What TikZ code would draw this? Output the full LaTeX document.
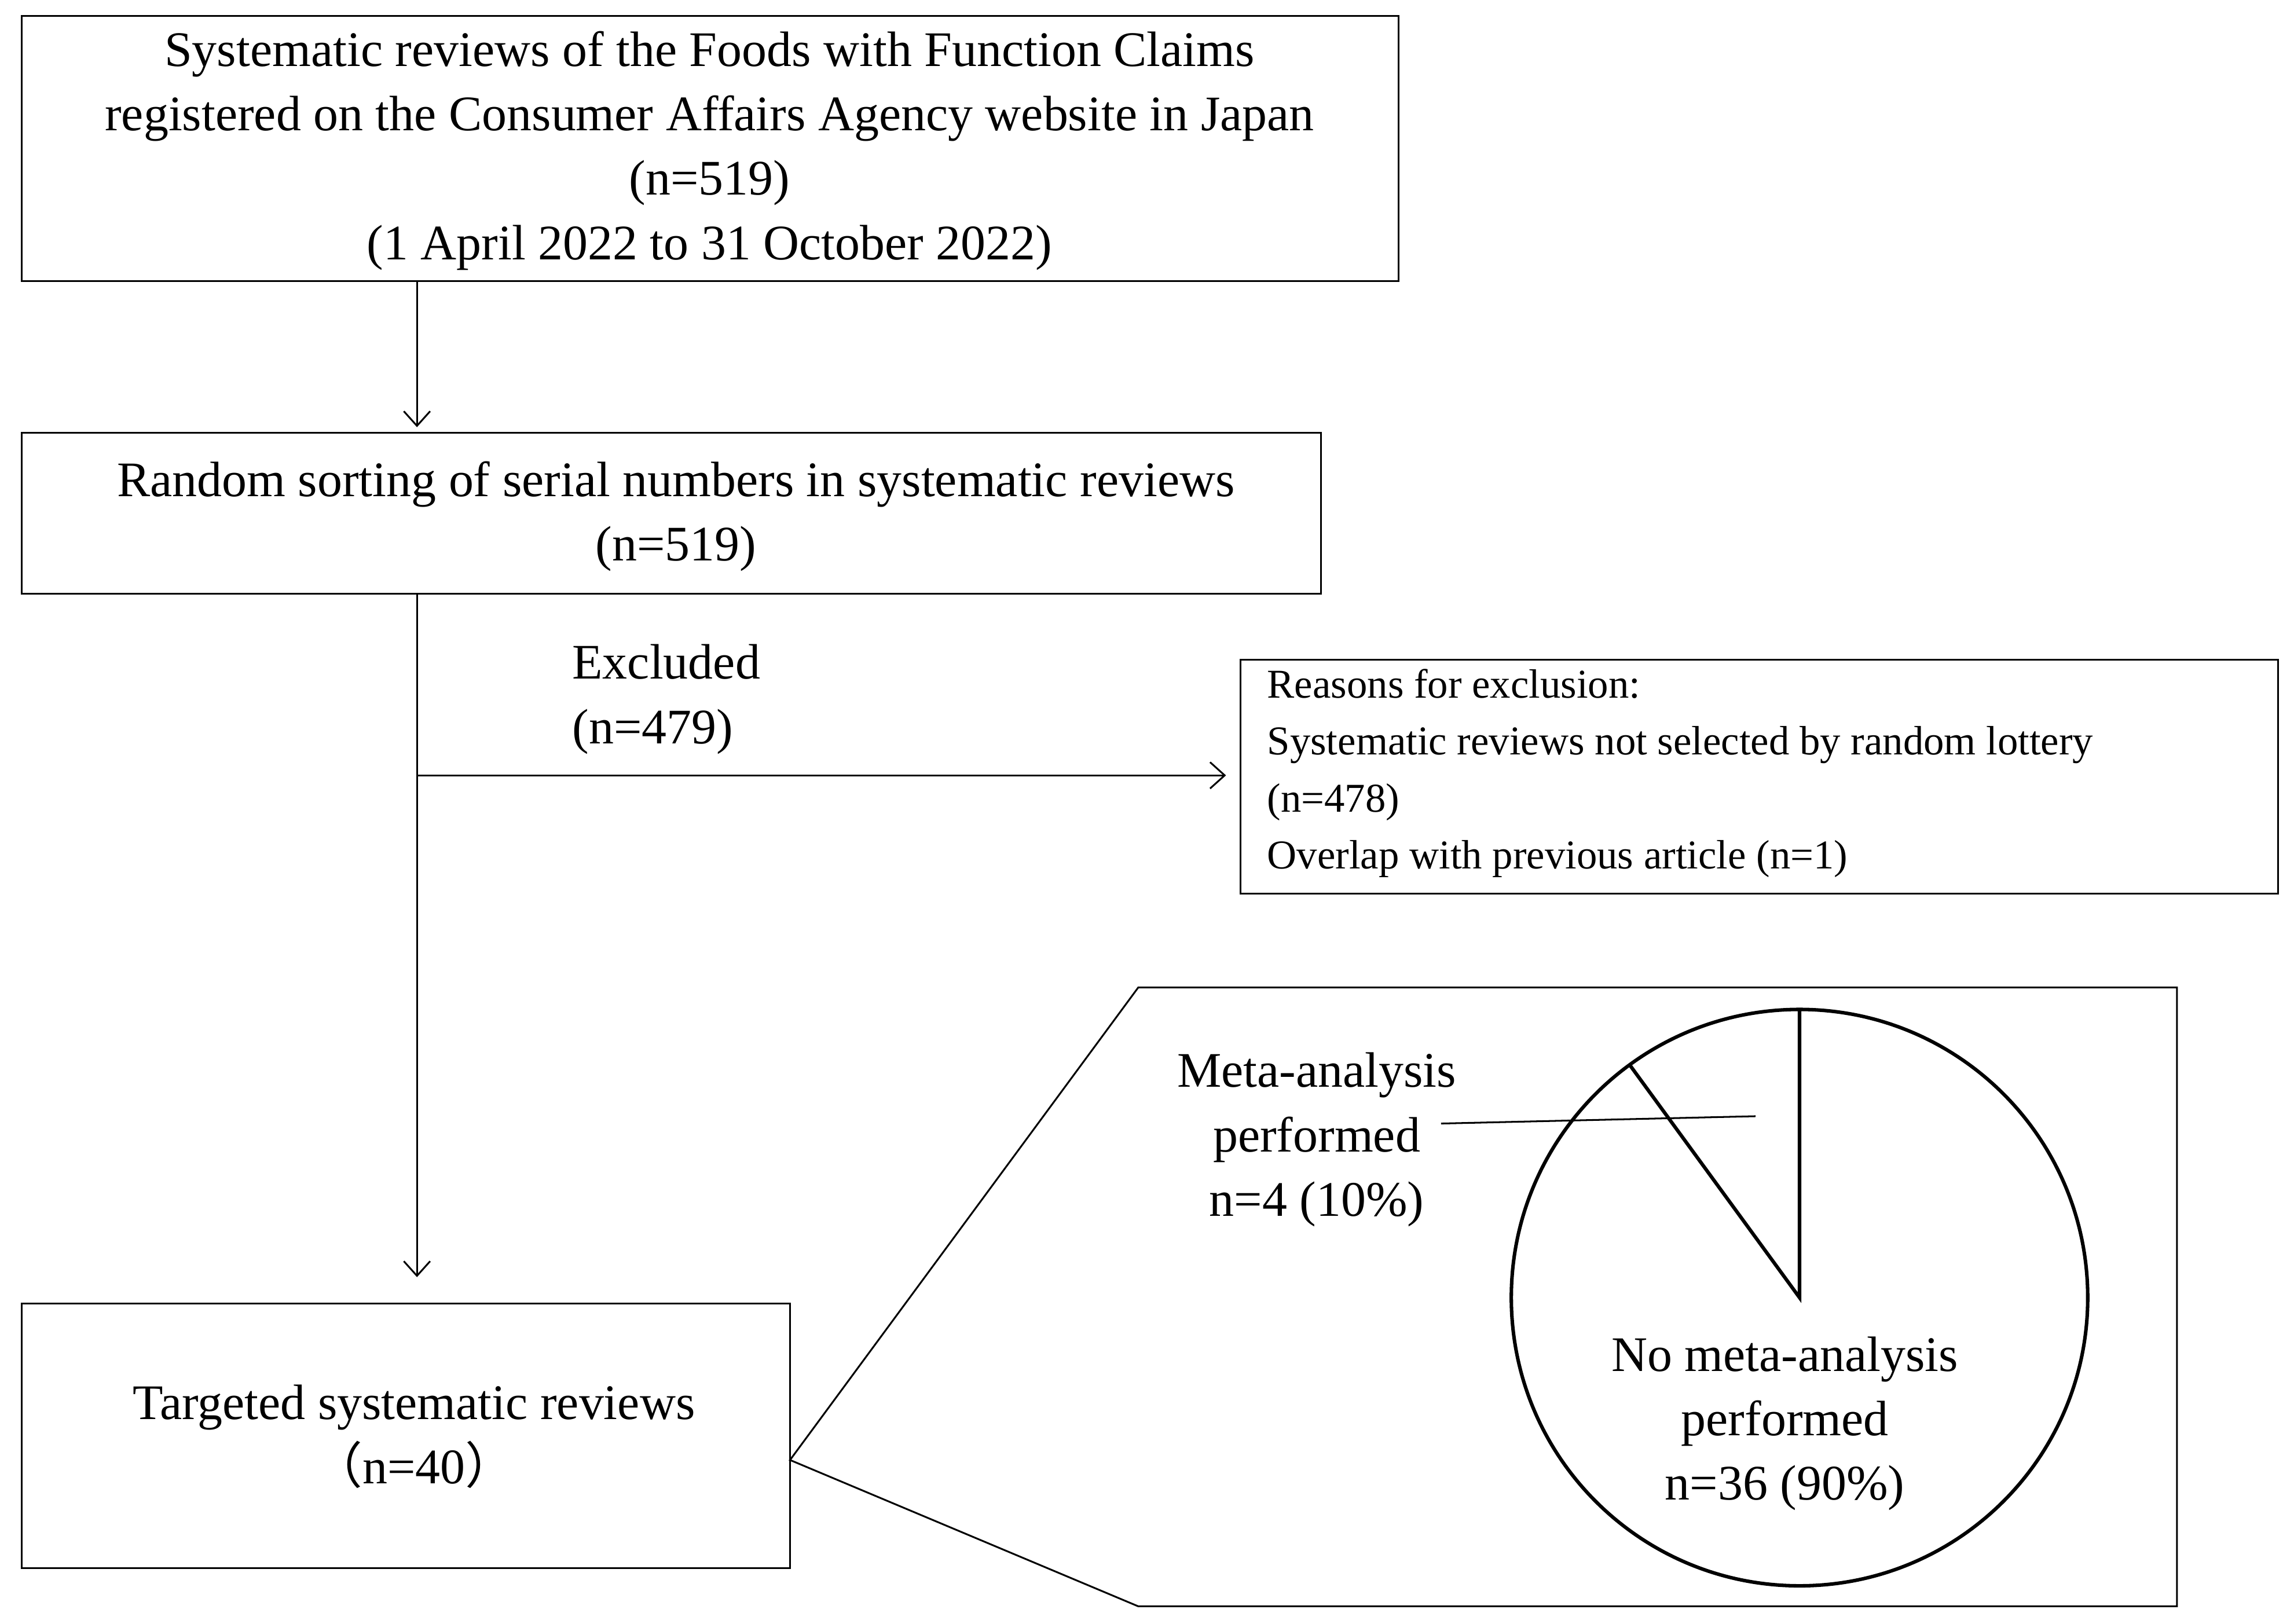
\documentclass[tikz,border=0pt]{standalone}
\usepackage{fontspec}
\usetikzlibrary{arrows.meta}
\setmainfont{Liberation Serif}
\newfontfamily\cjk{Noto Sans CJK JP}
\begin{document}
\begin{tikzpicture}[x=1pt,y=-1pt,
  box/.style={draw,line width=1.2pt},
  txt/.style={font=\fontsize{34}{44}\selectfont,align=center,inner sep=0},
  sm/.style={font=\fontsize{28}{39}\selectfont,align=left,inner sep=0,anchor=north west},
  arr/.style={-{Straight Barb[length=10pt,width=18pt]},line width=1.2pt}]
\useasboundingbox (0,0) rectangle (1568,1110);
\draw[box] (15,11) rectangle (956,192);
\node[txt] (t1) at (485,103) {Systematic reviews of the Foods with Function Claims\\registered on the Consumer Affairs Agency website in Japan\\(n=519)\\(1 April 2022 to 31 October 2022)};
\draw[box] (15,296) rectangle (903,406);
\node[txt] (t2) at (462,353) {Random sorting of serial numbers in systematic reviews\\(n=519)};
\draw[box] (848,451) rectangle (1557,611);
\node[sm] (t3) at (866,457) {Reasons for exclusion:\\Systematic reviews not selected by random lottery\\(n=478)\\Overlap with previous article (n=1)};
\draw[box] (15,891) rectangle (540,1072);
\node[txt] (t4) at (283,982) {Targeted systematic reviews\\{\cjk （}n=40{\cjk ）}};
\node[txt,align=left,anchor=west] (ex) at (391,478) {Excluded\\(n=479)};
\coordinate (a1) at (285,192); \coordinate (a2) at (285,292);
\coordinate (b1) at (285,406); \coordinate (b2) at (285,873);
\coordinate (j) at (285,530); \coordinate (j2) at (838,530);
\draw[arr] (a1) -- (a2);
\draw[arr] (b1) -- (b2);
\draw[arr] (j) -- (j2);
\coordinate (c0) at (540,998);
\draw[line width=1.2pt] (c0) -- (778,675) -- (1488,675) -- (1488,1098) -- (778,1098) -- cycle;
\coordinate (pc) at (1230,887);
\draw[line width=2.4pt] (pc) circle (197);
\draw[line width=2.4pt] (1230,690) -- (pc) -- (1114,728);
\node[txt] (m) at (900,779) {Meta-analysis\\performed\\n=4 (10\%)};
\draw[line width=1.2pt] (985,768) -- (1200,763);
\node[txt] (n) at (1220,973) {No meta-analysis\\performed\\n=36 (90\%)};
\end{tikzpicture}
\end{document}
